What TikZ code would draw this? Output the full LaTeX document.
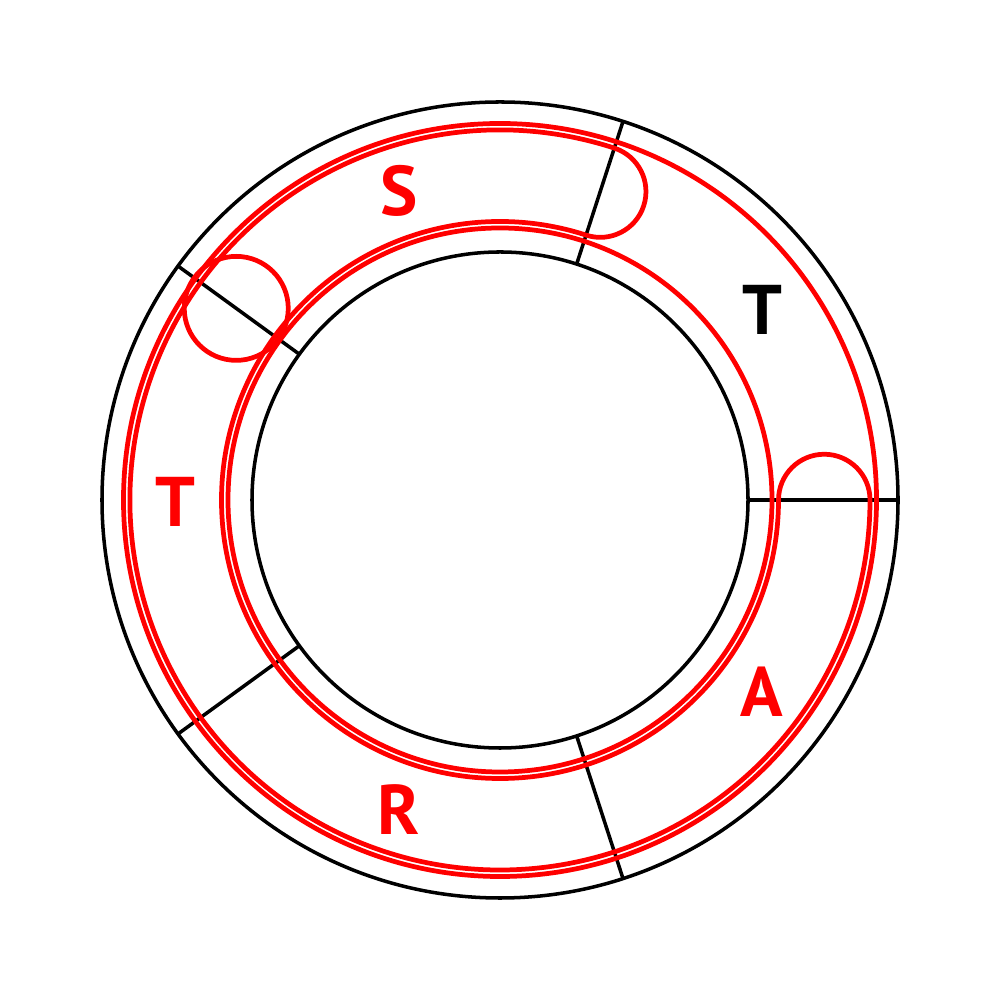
\documentclass[tikz,border=0pt]{standalone}
\usepackage{fontspec}
\setmainfont{PT Sans}
\begin{document}
\begin{tikzpicture}
\tikzset{
  ring/.style={draw=black, line width=1.0pt},
  track/.style={draw=red, line width=1.35pt},
  lab/.style={inner sep=0pt, font=\fontsize{20}{20}\selectfont\bfseries}
}
\useasboundingbox (-5,-5) rectangle (5,5);
\coordinate (O) at (0,0);
% board
\draw[ring] (O) circle[radius=3.98cm];
\draw[ring] (O) circle[radius=2.48cm];
\foreach \a in {0,72,144,216,288} \draw[ring] (\a:2.48) -- (\a:3.98);
% red track circles
\draw[track] (O) circle[radius=3.765cm];
\draw[track] (O) circle[radius=2.72cm];
% loop at 144 degrees
\coordinate (L) at (144:3.26);
\draw[track] (L) circle[radius=0.52cm];
% closed track with two U-turns
\coordinate (P) at (72:2.785);
\draw[track] (P) arc[start angle=252, end angle=432, radius=0.4575cm]
  arc[start angle=72, end angle=360, radius=3.70cm]
  arc[start angle=0, end angle=180, radius=0.4575cm]
  arc[start angle=360, end angle=72, radius=2.785cm] -- cycle;
% labels
\node[lab, text=red] (s) at (-1.01,3.09) {S};
\node[lab, text=black] (t1) at (2.62,1.90) {T};
\node[lab, text=red] (t2) at (-3.25,-0.02) {T};
\node[lab, text=red] (a) at (2.615,-1.915) {A};
\node[lab, text=red] (r) at (-1.01,-3.10) {R};
\end{tikzpicture}
\end{document}
